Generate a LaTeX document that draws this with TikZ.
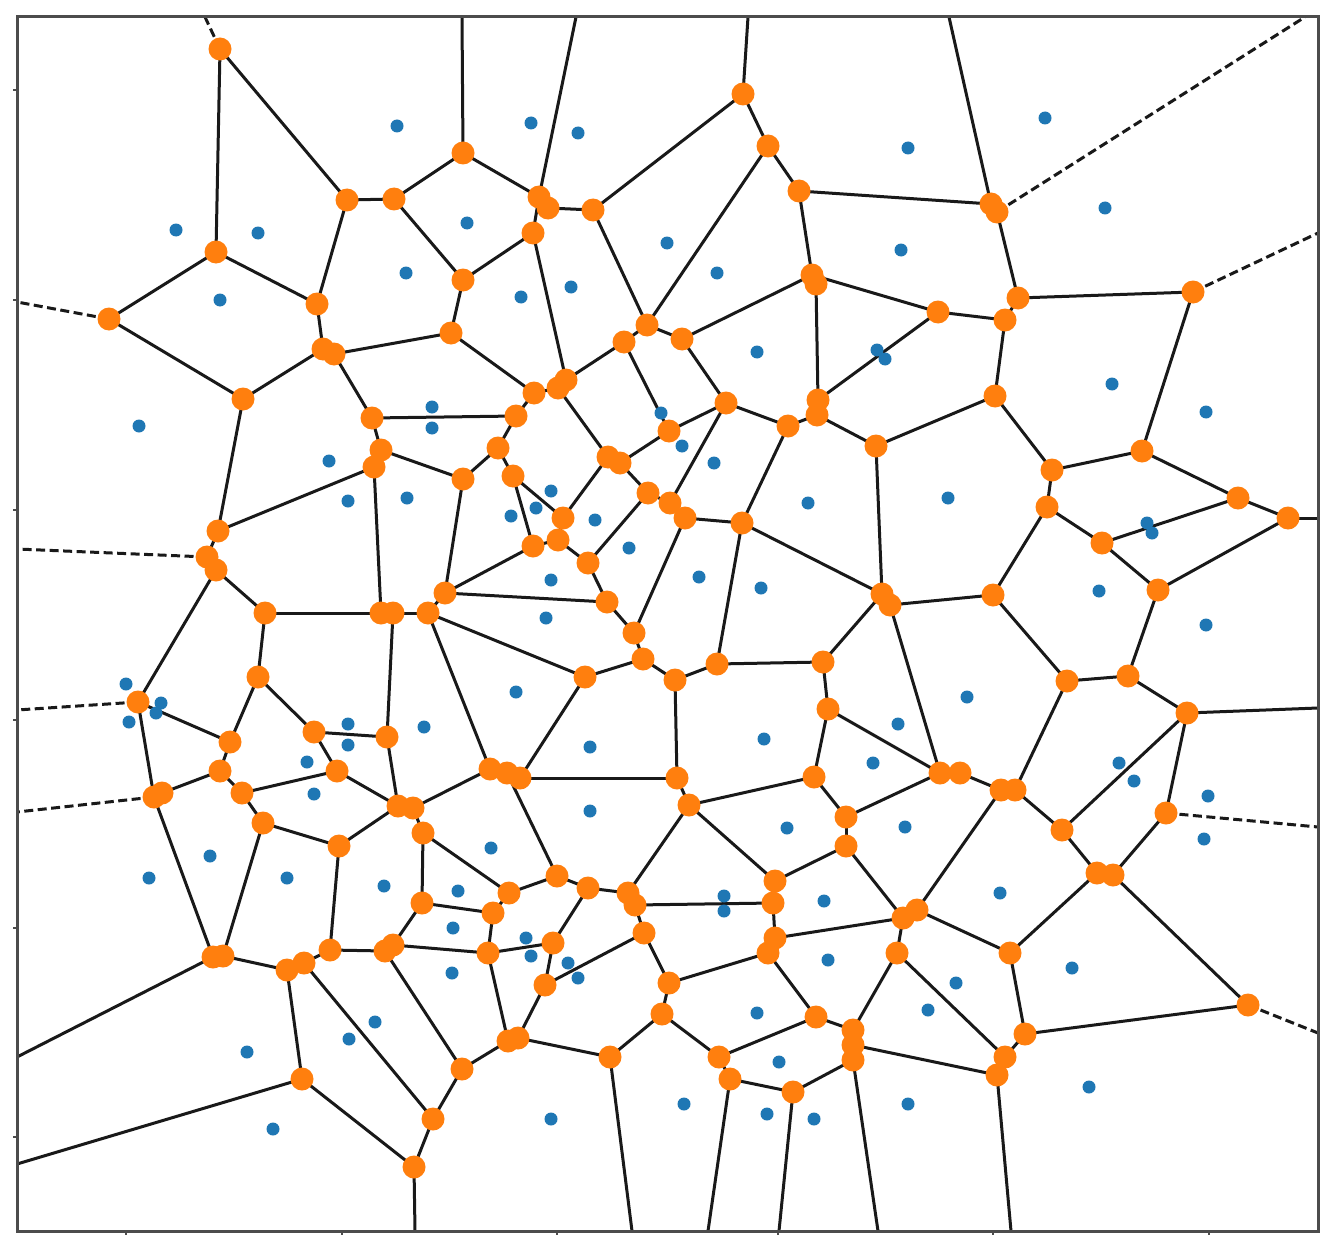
\documentclass[tikz,border=0pt]{standalone}
\definecolor{vorange}{HTML}{FF7F0E}
\definecolor{vblue}{HTML}{1F77B4}
\tikzset{
  edge/.style={line width=3pt, black!90},
  dashedge/.style={line width=3pt, black!90, dash pattern=on 9pt off 4.5pt},
  framebox/.style={line width=3pt, black!70},
  tickmark/.style={line width=1.2pt, black!70},
  vdot/.style={fill=vorange},
  pdot/.style={fill=vblue}
}
\begin{document}
\begin{tikzpicture}[x=1pt,y=-1pt]
\fill[white] (0,0) rectangle (1330,1252);
\useasboundingbox (0,0) rectangle (1330,1252);
% vertices
\foreach \n/\x/\y in {A1/220/49,A2/216/252,A3/347/200,A4/394/199,A5/317/304,A6/109/319,A7/243/399,A8a/323/349,A8b/334/354,A9/372/418,
B1/463/153,B2a/539/197,B2b/548/208,B3/593/210,B4/533/233,B5/463/280,B6/451/333,B7a/558/388,B7b/566/380,B8/534/393,B9/516/416,B10/647/325,B11/624/342,B12/682/339,B13/743/94,B14/768/146,B15/799/191,B16a/812/275,B16b/816/284,B17/669/431,B18/726/403,B19/788/426,B20a/818/400,B20b/817/415,
C1a/991/204,C1b/997/212,C2/1018/298,C3/1193/292,C4/938/312,C5/1005/320,C6/995/396,
D1/218/531,D2a/381/450,D2b/374/467,D3a/381/613,D3b/393/613,D4a/207/557,D4b/216/570,D5/265/613,D6/428/613,D7/138/702,D8/258/677,D9/230/742,D10/220/771,D11a/154/797,D11b/162/793,D12/242/793,D13/337/771,D14/314/732,D15/387/737,D16a/398/806,D16b/413/808,
E1/498/448,E2/463/479,E3/513/476,E4/563/518,E5/533/546,E6/558/540,E7/588/563,E8/445/593,E9/607/602,E10/634/633,E11/643/659,E12/585/677,E13/675/680,E14/717/664,E15/823/662,E16/828/709,E17a/882/594,E17b/890/605,E18/742/523,E19/685/518,E20/670/503,E21/648/493,E22a/608/457,E22b/620/463,E23/876/446,E24a/490/769,E24b/507/773,E24c/520/778,E25/677/778,E26/689/805,E27/814/777,E28/846/817,
F1/1052/470,F2/1142/451,F3/1238/498,F4/1288/518,F5/1047/507,F6/1102/543,F7/1158/590,F8/993/595,F10/1067/681,F11/1128/676,F12/1187/713,F13a/940/773,F13b/960/773,F14a/1001/790,F14b/1015/790,F15/1062/830,F16/1166/813,
G1/263/823,G2/339/846,G3/423/833,G4/422/903,G5a/385/951,G5b/393/945,G6/330/950,G7a/304/963,G7b/287/970,G8a/213/957,G8b/223/956,G9/302/1079,G10/433/1119,G11/414/1167,G12/462/1069,
H1/557/876,H2/509/893,H3/588/888,H4a/628/893,H4b/635/905,H5a/775/881,H5b/773/903,H6/846/846,H7a/775/938,H7b/768/953,H8/644/933,H9/669/983,H10/662/1014,H11/610/1057,H12/719/1057,H13/730/1079,H14/793/1092,H15/816/1017,H16a/853/1030,H16b/853/1045,H16c/853/1060,H17/493/913,H18/488/953,H19a/508/1041,H19b/518/1038,H20/553/943,H21/545/985,
I1a/1097/873,I1b/1113/875,I2/1248/1005,I3/1010/953,I4a/903/918,I4b/917/910,I5/897/953,I6a/1005/1057,I6b/997/1075,I7/1025/1034}
  {\coordinate (\n) at (\x,\y);}
% border end points
\foreach \n/\x/\y in {tA1/205/17,tB1/462/17,tB2/576/17,tB13/748/17,tC1/949/17,tC1d/1305/17,
rC3/1318/233,rF4/1318/518,rF12/1318/708,rF16/1318/827,rI2/1318/1033,
lA6/17/302,lD4/17/549,lD7/17/710,lD11/17/812,lG8/17/1057,lG9/17/1164,
bG11/415/1231,bH11/632/1231,bH13/708/1231,bH14/779/1231,bH16/878/1231,bI6/1011/1231}
  {\coordinate (\n) at (\x,\y);}
% solid edges
\foreach \a/\b in {A1/A2,A1/A3,A3/A4,A4/B1,A4/B5,A3/A5,A2/A5,A2/A6,A6/A7,A5/A8a,A7/A8a,A8b/B6,A8b/A9,
A7/D1,A9/D2a,A9/B9,B1/B2a,B2a/B4,B2b/B3,B1/tB1,B2a/tB2,
B4/B5,B5/B6,B4/B7b,B6/B8,B8/B7a,B8/B9,B3/B10,B7b/B11,B11/B10,B10/B12,B3/B13,B13/tB13,B13/B14,B14/B10,B14/B15,B15/C1a,B15/B16a,B16b/B20a,B16a/C4,B16a/B12,
B11/B17,B12/B18,B17/B18,B17/E22b,B18/B19,B19/B20b,B18/E20,B19/E18,B20a/C4,B20b/E23,B7a/E22a,
C1a/tC1,C1b/C2,C2/C3,C2/C5,C4/C5,C5/C6,C6/E23,C6/F1,C3/F2,
F1/F2,F2/F3,F3/F4,F4/rF4,F1/F5,F5/F6,F6/F3,F6/F7,F7/F4,F5/F8,F8/E17b,F8/F10,F7/F11,F10/F11,F11/F12,F12/rF12,F12/F15,F12/F16,F16/I1b,F10/F14b,F13b/F14a,F14b/F15,F14a/I4b,F13a/E17b,F13a/E16,F13a/E28,
E23/E17a,E15/E17a,E18/E17a,
B9/E1,E1/E2,E1/E3,E2/D2a,E3/E4,E3/E5,E4/E6,E5/E6,E6/E7,E2/E8,E8/E5,E8/E9,E7/E9,E9/E10,E10/E11,E11/E12,E12/D6,E11/E13,E13/E14,E14/E15,E15/E16,E14/E18,E18/E19,E19/E20,E20/E21,E21/E22b,E22a/E4,E21/E7,E10/E19,
D6/E8,D6/D3b,D6/E24a,E12/E24c,E24c/E25,E13/E25,E25/E26,E26/E27,E16/E27,E27/E28,E28/H6,E24a/D16b,E24b/H1,E26/H4a,E26/H5a,
D1/D2b,D2b/D3a,D1/D4a,D4b/D5,D5/D3a,D4b/D7,D5/D8,D8/D9,D7/D9,D9/D10,D7/D11a,D11b/D10,D10/D12,D12/D13,D8/D14,D14/D15,D14/D13,D3b/D15,
D15/D16a,D13/D16a,D12/G1,D11a/G8a,G8b/G1,G8a/lG8,G8b/G7b,G1/G2,G2/D16a,D16b/G3,G3/H2,G3/G4,G4/H17,G4/G5b,G2/G6,G6/G5a,G5b/H18,G5a/G12,G6/G7a,G7b/G9,G9/lG9,G7a/G10,G9/G11,G11/G10,G11/bG11,G10/G12,
H1/H2,H1/H3,H3/H4a,H4b/H5b,H5a/H6,H5b/H7a,H4b/H8,H8/H9,H9/H7b,H9/H10,H10/H11,H11/bH11,H10/H12,H12/H13,H13/H14,H13/bH13,H14/bH14,H7b/H15,H15/H12,H15/H16a,H16c/H14,H16a/I5,H16b/I6b,H16c/bH16,H2/H17,H17/H18,H18/H19a,H3/H20,H20/H18,H20/H21,H21/H19b,H21/H8,H19b/H11,H19a/G12,H7a/I4a,H6/I4a,
I1a/F15,I1b/I2,I1a/I3,I4b/I3,I4a/I5,I5/I6a,I3/I7,I7/I2,I7/I6a,I6b/bI6}
  {\draw[edge] (\a) -- (\b);}
% dashed edges to infinity
\foreach \a/\b in {A1/tA1,A6/lA6,D4a/lD4,D7/lD7,D11a/lD11,C1b/tC1d,C3/rC3,F16/rF16,I2/rI2}
  {\draw[dashedge] (\a) -- (\b);}
% frame and ticks
\draw[framebox] (17,17) rectangle (1318,1231);
\foreach \y in {90,300,510,720,928,1137} {\draw[tickmark] (17,\y) -- (13,\y);}
\foreach \x in {126,342,557,778,993,1209} {\draw[tickmark] (\x,1231) -- (\x,1235);}
% input points
\foreach \x/\y in {397/126,176/230,258/233,220/300,406/273,432/407,139/426,
531/123,578/133,467/223,667/243,717/273,521/297,571/287,757/352,877/350,885/359,661/413,432/428,
908/148,1045/118,1105/208,901/250,1112/384,1206/412,
329/461,348/501,407/498,126/684,161/703,156/713,129/722,348/724,348/745,424/727,307/762,314/794,
682/446,714/463,808/503,551/491,536/508,511/516,595/520,629/548,699/577,761/588,551/580,546/618,516/692,590/747,764/739,873/763,590/811,787/828,
948/498,1147/523,1152/533,1099/591,1206/625,967/697,898/724,1119/763,1134/781,1208/796,905/827,
149/878,210/856,287/878,384/886,458/891,453/928,452/973,375/1022,349/1039,247/1052,273/1129,
491/848,526/938,531/956,568/963,578/978,724/896,724/911,824/901,828/960,757/1013,779/1062,684/1104,767/1114,814/1119,551/1119,
1204/839,1000/893,1072/968,956/983,928/1010,1089/1087,908/1104}
  {\fill[pdot] (\x,\y) circle (6.5pt);}
% Voronoi vertices
\foreach \n in {A1,A2,A3,A4,A5,A6,A7,A8a,A8b,A9,B1,B2a,B2b,B3,B4,B5,B6,B7a,B7b,B8,B9,B10,B11,B12,B13,B14,B15,B16a,B16b,B17,B18,B19,B20a,B20b,
C1a,C1b,C2,C3,C4,C5,C6,D1,D2a,D2b,D3a,D3b,D4a,D4b,D5,D6,D7,D8,D9,D10,D11a,D11b,D12,D13,D14,D15,D16a,D16b,
E1,E2,E3,E4,E5,E6,E7,E8,E9,E10,E11,E12,E13,E14,E15,E16,E17a,E17b,E18,E19,E20,E21,E22a,E22b,E23,E24a,E24b,E24c,E25,E26,E27,E28,
F1,F2,F3,F4,F5,F6,F7,F8,F10,F11,F12,F13a,F13b,F14a,F14b,F15,F16,
G1,G2,G3,G4,G5a,G5b,G6,G7a,G7b,G8a,G8b,G9,G10,G11,G12,
H1,H2,H3,H4a,H4b,H5a,H5b,H6,H7a,H7b,H8,H9,H10,H11,H12,H13,H14,H15,H16a,H16b,H16c,H17,H18,H19a,H19b,H20,H21,
I1a,I1b,I2,I3,I4a,I4b,I5,I6a,I6b,I7}
  {\fill[vdot] (\n) circle (11.5pt);}
\end{tikzpicture}
\end{document}
